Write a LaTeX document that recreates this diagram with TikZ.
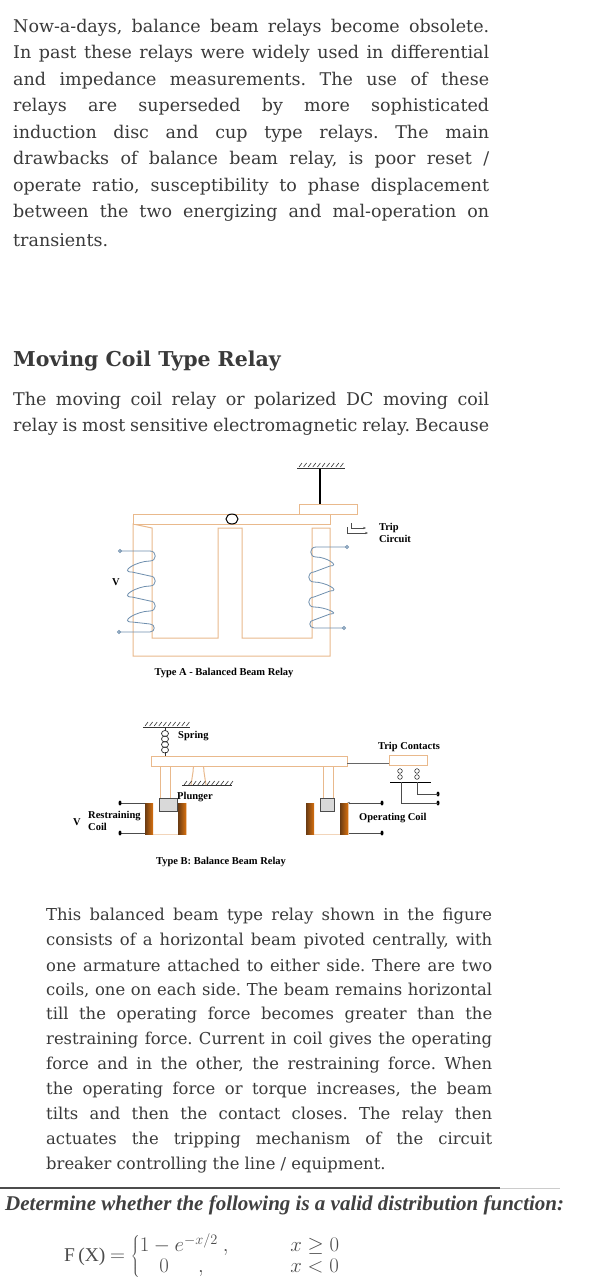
\documentclass[tikz,border=0pt]{standalone}
\usepackage{fontspec}
\setmainfont{DejaVu Serif}
\newfontfamily\tms{Liberation Serif}
\usetikzlibrary{arrows.meta,shapes.geometric}
\newcommand\jl[4]{\node[anchor=west,inner sep=0] at (#1,#2) {\makebox[#3pt][s]{#4}};}
\newcommand\nl[3]{\node[anchor=west,inner sep=0] at (#1,#2) {#3};}
\definecolor{txt}{HTML}{3A3A3A}
\definecolor{beam}{HTML}{E9B98C}
\definecolor{coil}{HTML}{6F8FAE}
\definecolor{cu}{HTML}{B0621F}
\tikzset{
 fr/.style={draw=beam,line width=1pt,fill=white},
 lab/.style={font=\tms\bfseries\fontsize{10.5}{11.5}\selectfont,inner sep=0,align=left},
 hatch/.style={line width=1pt,draw=black!80},
 wire/.style={draw=black!70,line width=0.8pt},
 cw/.style={draw=coil,line width=0.8pt},
 dot/.style={fill=black,ellipse,minimum width=3pt,minimum height=5pt,inner sep=0}
}
\frenchspacing
\begin{document}
\begin{tikzpicture}[x=1pt,y=-1pt]
\useasboundingbox (0,0) rectangle (608,1280);
\fill[white] (0,0) rectangle (608,1280);
\begin{scope}[txt,font=\fontsize{17.5}{19}\selectfont]
\jl{13}{28}{476}{Now-a-days, balance beam relays become obsolete.}
\jl{13}{54}{476}{In past these relays were widely used in differential}
\jl{13}{81}{476}{and impedance measurements. The use of these}
\jl{13}{107}{476}{relays are superseded by more sophisticated}
\jl{13}{134}{476}{induction disc and cup type relays. The main}
\jl{13}{160}{476}{drawbacks of balance beam relay, is poor reset /}
\jl{13}{187}{476}{operate ratio, susceptibility to phase displacement}
\jl{13}{213}{476}{between the two energizing and mal-operation on}
\nl{13}{240}{transients.}
\jl{13}{401}{476}{The moving coil relay or polarized DC moving coil}
\jl{13}{427}{476}{relay is most sensitive electromagnetic relay. Because}
\end{scope}
\node[anchor=west,inner sep=0,txt,font=\bfseries\fontsize{20.5}{22}\selectfont] (h) at (13,361) {Moving Coil Type Relay};
\begin{scope}[txt,font=\fontsize{16.4}{18}\selectfont]
\jl{46}{916}{446}{This balanced beam type relay shown in the figure}
\jl{46}{941}{446}{consists of a horizontal beam pivoted centrally, with}
\jl{46}{965}{446}{one armature attached to either side. There are two}
\jl{46}{990}{446}{coils, one on each side. The beam remains horizontal}
\jl{46}{1015}{446}{till the operating force becomes greater than the}
\jl{46}{1040}{446}{restraining force. Current in coil gives the operating}
\jl{46}{1065}{446}{force and in the other, the restraining force. When}
\jl{46}{1090}{446}{the operating force or torque increases, the beam}
\jl{46}{1115}{446}{tilts and then the contact closes. The relay then}
\jl{46}{1140}{446}{actuates the tripping mechanism of the circuit}
\nl{46}{1165}{breaker controlling the line / equipment.}
\end{scope}
% ---------- Type A ----------
\draw[fr] (133,524) -- (133,656) -- (330,656) -- (330,528) -- (312,528) -- (312,638) -- (242,638) -- (242,528) -- (218,528) -- (218,638) -- (152,638) -- (152,528) -- cycle;
\draw[fr] (299,504) rectangle (357,514);
\draw[fr] (133,514) rectangle (330,524);
\draw[line width=1pt] (232,519) ellipse (6 and 5);
\draw[line width=1.2pt] (320,468) -- (320,504);
\draw[hatch] (297,468) -- (345,468);
\foreach \i in {0,...,9} \draw[black!80,line width=0.6pt] (299+4.6*\i,467) -- (302+4.6*\i,463);
\draw[black!70,-{Stealth[length=3pt]}] (351,523) -- (351,528) -- (366,528);
\draw[black!70,-{Stealth[length=3pt]}] (347,527) -- (347,533) -- (368,533);
\node[lab] (trip) at (395,533) {Trip\\Circuit};
\node[lab] (v1) at (116,582) {V};
\draw[cw] (120,551) -- (150,551) to[out=0,in=0,looseness=1.8] (150,561)
 to[out=180,in=180,looseness=1.6] (132,572) -- (150,576) to[out=0,in=0,looseness=1.8] (150,586)
 to[out=180,in=180,looseness=1.6] (132,597) -- (150,601) to[out=0,in=0,looseness=1.8] (150,611)
 to[out=180,in=180,looseness=1.6] (132,622) -- (150,624) to[out=0,in=0,looseness=1.8] (150,632) -- (119,632);
\draw[cw] (120,551) circle (1.5) (119,632) circle (1.5);
\draw[cw] (346,547) -- (316,547) to[out=180,in=180,looseness=1.8] (316,557)
 to[out=0,in=0,looseness=1.6] (330,566) -- (314,572) to[out=180,in=180,looseness=1.8] (314,582)
 to[out=0,in=0,looseness=1.6] (330,591) -- (314,597) to[out=180,in=180,looseness=1.8] (314,607)
 to[out=0,in=0,looseness=1.6] (330,614) -- (314,620) to[out=180,in=180,looseness=1.8] (314,628) -- (343,628);
\draw[cw] (347,547) circle (1.5) (344,628) circle (1.5);
\node[lab] (capA) at (224,673) {Type A - Balanced Beam Relay};
% ---------- Type B ----------
\draw[hatch] (143,727) -- (190,727);
\foreach \i in {0,...,9} \draw[black!80,line width=0.6pt] (145+4.6*\i,726) -- (148+4.6*\i,722);
\draw[black!80,line width=0.7pt] (165,727) -- (165,731);
\foreach \k in {0,...,3} \draw[black!80,line width=0.7pt] (165,733.5+5.5*\k) ellipse (3.5 and 3);
\draw[black!80,line width=0.7pt] (165,752) -- (165,756);
\node[lab,anchor=west] (spr) at (178,736) {Spring};
\draw[fr] (160,766) rectangle (170,799);
\draw[fr] (323,766) rectangle (333,799);
\draw[fr] (191,785) -- (193,772) .. controls (193,757) and (204,757) .. (204,772) -- (206,785);
\draw[fr] (151,756) rectangle (347,766);
\draw[hatch] (182,785) -- (232,785);
\foreach \i in {0,...,10} \draw[black!80,line width=0.6pt] (184+4.6*\i,785) -- (187+4.6*\i,781);
\node[lab,anchor=west] (plg) at (177,797) {Plunger};
\draw[wire] (120,803) -- (146,803) (120,833) -- (146,833);
\draw[wire,-{Stealth[length=3pt]}] (382,803) -- (347,803);
\draw[wire] (347,833) -- (382,833);
\draw[beam!60,line width=0.6pt] (145,803) -- (145,834) -- (186,834) -- (186,803);
\draw[beam!60,line width=0.6pt] (306,803) -- (306,834) -- (348,834) -- (348,803);
\foreach \p in {(120,803),(120,833),(382,803),(382,833),(438,794),(438,803)} \node[dot] at \p {};
\foreach \x in {145,178,306,340} \shade[left color=cu!60!black,right color=cu!50!orange] (\x,803) rectangle (\x+8,834);
\draw[fill=black!15,draw=black!70] (159,798) rectangle (177,811);
\draw[fill=black!15,draw=black!70] (320,798) rectangle (334,811);
\node[lab,anchor=west] (rc) at (88,821) {Restraining\\Coil};
\node[lab] (v2) at (77,822) {V};
\node[lab,anchor=west] (oc) at (359,818) {Operating Coil};
\draw[black!60,line width=0.8pt] (347,763) -- (389,763);
\draw[fr] (389,755) rectangle (427,765);
\node[lab] (tc) at (409,747) {Trip Contacts};
\draw[black!80,line width=0.6pt] (400,771) circle (2.3) (400,777) circle (2.3) (417,771) circle (2.3) (417,777) circle (2.3);
\draw[black,line width=1pt] (390,782) -- (431,782);
\draw[wire] (401,782) -- (401,803) -- (438,803) (417,782) -- (417,794) -- (438,794);
\node[lab] (capB) at (221,862) {Type B: Balance Beam Relay};
% ---------- bottom ----------
\draw[black!70,line width=1.2pt] (0,1188) -- (500,1188);
\draw[black!20,line width=1pt] (500,1188) -- (560,1188);
\node[anchor=west,inner sep=0,text=black!75,font=\tms\bfseries\itshape\fontsize{21}{23}\selectfont] (q) at (5,1205) {Determine whether the following is a valid distribution function:};
\node[anchor=west,inner sep=0,text=black!70,font=\tms\fontsize{19.5}{21}\selectfont] (f) at (64,1256)
 {F\,(X) $=\left\{\begin{array}{@{}l@{\hspace{62pt}}l@{}}1-e^{-x/2}\ , & x\ge 0\\[0pt] \quad 0\quad\ \ , & x<0\end{array}\right.$};
\end{tikzpicture}
\end{document}
